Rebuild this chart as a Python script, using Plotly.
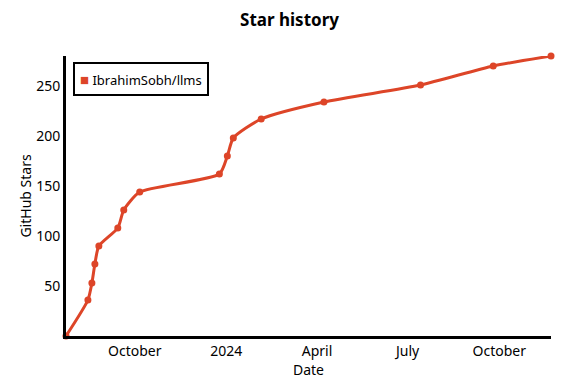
import plotly.graph_objects as go

dates = ["2023-07-24", "2023-08-15", "2023-08-19", "2023-08-22", "2023-08-26",
         "2023-09-14", "2023-09-20", "2023-10-06", "2023-12-25", "2024-01-02",
         "2024-01-08", "2024-02-05", "2024-04-08", "2024-07-14", "2024-09-25",
         "2024-11-22"]
stars = [0, 36, 53, 72, 90, 108, 126, 144, 162, 180, 198, 217, 234, 251, 270, 280]

tick_vals = ["2023-10-01", "2024-01-01", "2024-04-01", "2024-07-01", "2024-10-01"]
tick_text = ["October", "2024", "April", "July", "October"]
y_ticks = [50, 100, 150, 200, 250]

repo = "IbrahimSobh/llms"
color = "#dd4528"
font = "Noto Sans"

fig = go.Figure()
fig.add_trace(go.Scatter(
    x=dates, y=stars, mode="lines+markers", name=repo, showlegend=False,
    line=dict(color=color, width=3, shape="spline", smoothing=0.6),
    marker=dict(color=color, size=7, symbol="circle"), cliponaxis=False,
))

fig.add_annotation(
    xref="paper", yref="paper", x=0.014, y=0.98, xanchor="left", yanchor="top",
    text=f"<span style='color:{color};font-size:15px'>■</span> {repo}", showarrow=False,
    font=dict(size=13, family=font), align="left",
    bordercolor="black", borderwidth=2, borderpad=5, bgcolor="white",
)

fig.update_layout(
    width=579, height=379,
    margin=dict(l=66, r=28, t=56, b=43, autoexpand=False),
    paper_bgcolor="white", plot_bgcolor="white",
    font=dict(family=font, size=13, color="black"),
    title=dict(text="<b>Star history</b>", x=0.5, xanchor="center", y=0.947,
               yanchor="middle", font=dict(size=17, family=font)),
    showlegend=False,
    xaxis=dict(range=["2023-07-24", "2024-11-22"], showgrid=False,
               tickvals=tick_vals, ticktext=tick_text, ticks="",
               tickfont=dict(size=14), automargin=False,
               showline=True, linecolor="black", linewidth=3,
               title=dict(text="Date", font=dict(size=14)),
               zeroline=False),
    yaxis=dict(range=[0, 280], showgrid=False, tickvals=y_ticks, ticks="",
               tickfont=dict(size=14), automargin=True,
               showline=True, linecolor="black", linewidth=3,
               title=dict(text="GitHub Stars", standoff=2, font=dict(size=14)),
               zeroline=False),
)

fig.write_html("out.html")
